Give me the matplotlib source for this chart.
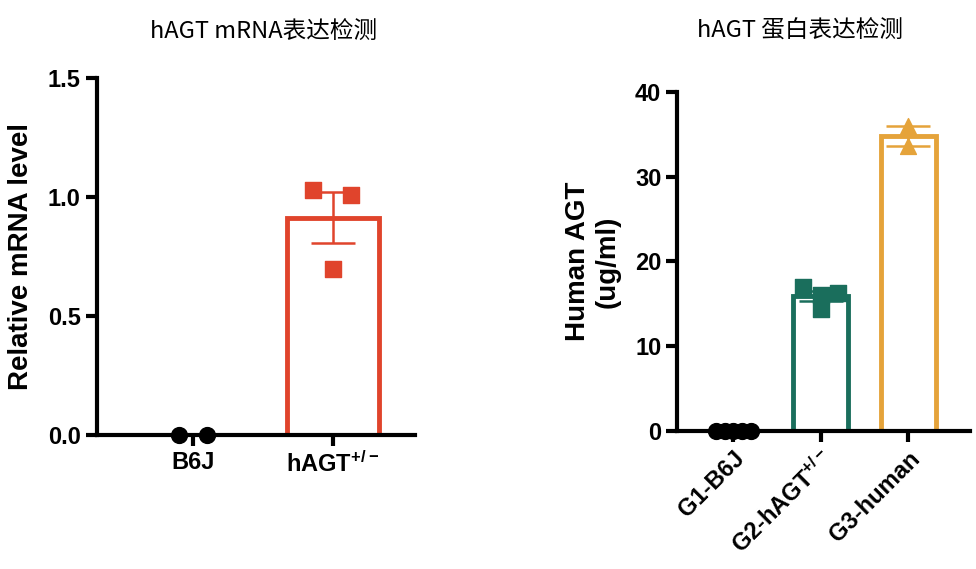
import numpy as np
import matplotlib
matplotlib.use("Agg")
import matplotlib.pyplot as plt

plt.rcParams["font.family"] = ["Liberation Sans", "Noto Sans CJK SC", "DejaVu Sans"]
plt.rcParams["mathtext.fontset"] = "custom"
plt.rcParams["mathtext.default"] = "bf"
plt.rcParams["mathtext.bf"] = "Liberation Sans:bold"

mrna_groups = ["B6J", "hAGT$^{+/-}$"]
mrna_points = [[0.0, 0.0], [1.03, 1.01, 0.70]]
mrna_colors = ["black", "#e0442c"]
mrna_markers = ["o", "s"]

prot_groups = ["G1-B6J", "G2-hAGT$^{+/-}$", "G3-human"]
prot_points = [[0.0, 0.0, 0.0, 0.0, 0.0], [17.0, 16.0, 14.4, 16.3], [36.0, 33.6]]
prot_colors = ["black", "#1a6e5c", "#e5a33a"]
prot_markers = ["o", "s", "^"]

fig = plt.figure(figsize=(9.76, 5.69), dpi=100)
ax1 = fig.add_axes([0.099, 0.235, 0.326, 0.628])
ax2 = fig.add_axes([0.694, 0.243, 0.300, 0.595])


def draw(ax, points, colors, markers, width, offsets):
    for i, (pts, c, m) in enumerate(zip(points, colors, markers)):
        pts = np.array(pts)
        mean = pts.mean()
        sem = pts.std(ddof=1) / np.sqrt(len(pts))
        ax.bar(i, mean, width=width, facecolor="white", edgecolor=c, linewidth=3.5, zorder=2)
        ax.errorbar(i, mean, yerr=sem, color=c, capsize=16, elinewidth=1.8, capthick=1.8, zorder=3)
        xs = i + np.array(offsets[len(pts)])
        ax.scatter(xs, pts, marker=m, color=c, s=130, zorder=4, clip_on=False)


def style(ax):
    for s in ["top", "right"]:
        ax.spines[s].set_visible(False)
    for s in ["left", "bottom"]:
        ax.spines[s].set_linewidth(3)
    ax.tick_params(width=3, length=8, labelsize=17)
    for lab in ax.get_xticklabels() + ax.get_yticklabels():
        lab.set_fontweight("bold")


draw(ax1, mrna_points, mrna_colors, mrna_markers, 0.66,
     {2: [-0.1, 0.1], 3: [-0.14, 0.13, 0.0]})
ax1.set_xlim(-0.686, 1.586)
ax1.set_ylim(0, 1.5)
ax1.set_yticks([0, 0.5, 1.0, 1.5])
ax1.set_yticklabels(["0.0", "0.5", "1.0", "1.5"])
ax1.set_xticks([0, 1])
ax1.set_xticklabels(mrna_groups)
ax1.set_ylabel("Relative mRNA level", fontsize=20, fontweight="bold", labelpad=10)
style(ax1)
fig.text(0.27, 0.945, "hAGT mRNA表达检测", ha="center", va="center", fontsize=17,
         family=["Noto Sans CJK SC", "DejaVu Sans"])

draw(ax2, prot_points, prot_colors, prot_markers, 0.63,
     {5: [-0.2, -0.1, 0.0, 0.1, 0.2], 4: [-0.2, 0.0, 0.0, 0.2], 2: [0.0, 0.0]})
ax2.set_xlim(-0.64, 2.71)
ax2.set_ylim(0, 40)
ax2.set_yticks([0, 10, 20, 30, 40])
ax2.set_xticks([0, 1, 2])
ax2.set_xticklabels(prot_groups, rotation=45, ha="right", rotation_mode="anchor")
ax2.set_ylabel("Human AGT\n(ug/ml)", fontsize=20, fontweight="bold", labelpad=10)
style(ax2)
fig.text(0.82, 0.945, "hAGT 蛋白表达检测", ha="center", va="center", fontsize=17,
         family=["Noto Sans CJK SC", "DejaVu Sans"])

fig.savefig("out.png", dpi=100)
